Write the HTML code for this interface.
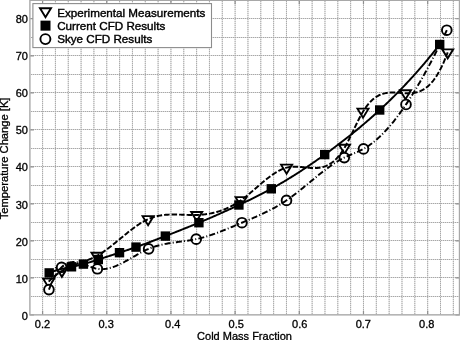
<!DOCTYPE html>
<html><head><meta charset="utf-8"><style>
html,body{margin:0;padding:0;background:#fff;width:460px;height:340px;overflow:hidden}
svg{display:block}
</style></head><body>
<svg width="460" height="340" viewBox="0 0 460 340">
<rect width="460" height="340" fill="#fff"/>
<path d="M42.58,1 V314.85 M55.42,1 V314.85 M68.25,1 V314.85 M81.09,1 V314.85 M93.92,1 V314.85 M106.76,1 V314.85 M119.60,1 V314.85 M132.43,1 V314.85 M145.27,1 V314.85 M158.10,1 V314.85 M170.94,1 V314.85 M183.78,1 V314.85 M196.61,1 V314.85 M209.45,1 V314.85 M222.28,1 V314.85 M235.12,1 V314.85 M247.96,1 V314.85 M260.79,1 V314.85 M273.63,1 V314.85 M286.46,1 V314.85 M299.30,1 V314.85 M312.14,1 V314.85 M324.97,1 V314.85 M337.81,1 V314.85 M350.64,1 V314.85 M363.48,1 V314.85 M376.32,1 V314.85 M389.15,1 V314.85 M401.99,1 V314.85 M414.82,1 V314.85 M427.66,1 V314.85 M440.50,1 V314.85 M453.33,1 V314.85 M31,296.50 H459.5 M31,277.50 H459.5 M31,259.50 H459.5 M31,240.50 H459.5 M31,222.50 H459.5 M31,203.50 H459.5 M31,185.50 H459.5 M31,166.50 H459.5 M31,148.50 H459.5 M31,129.50 H459.5 M31,111.50 H459.5 M31,92.50 H459.5 M31,74.50 H459.5 M31,55.50 H459.5 M31,37.50 H459.5 M31,18.50 H459.5" stroke="#dadada" stroke-width="1" fill="none"/>
<path d="M42.58,1 V314.85 M55.42,1 V314.85 M68.25,1 V314.85 M81.09,1 V314.85 M93.92,1 V314.85 M106.76,1 V314.85 M119.60,1 V314.85 M132.43,1 V314.85 M145.27,1 V314.85 M158.10,1 V314.85 M170.94,1 V314.85 M183.78,1 V314.85 M196.61,1 V314.85 M209.45,1 V314.85 M222.28,1 V314.85 M235.12,1 V314.85 M247.96,1 V314.85 M260.79,1 V314.85 M273.63,1 V314.85 M286.46,1 V314.85 M299.30,1 V314.85 M312.14,1 V314.85 M324.97,1 V314.85 M337.81,1 V314.85 M350.64,1 V314.85 M363.48,1 V314.85 M376.32,1 V314.85 M389.15,1 V314.85 M401.99,1 V314.85 M414.82,1 V314.85 M427.66,1 V314.85 M440.50,1 V314.85 M453.33,1 V314.85 M31,296.50 H459.5 M31,277.50 H459.5 M31,259.50 H459.5 M31,240.50 H459.5 M31,222.50 H459.5 M31,203.50 H459.5 M31,185.50 H459.5 M31,166.50 H459.5 M31,148.50 H459.5 M31,129.50 H459.5 M31,111.50 H459.5 M31,92.50 H459.5 M31,74.50 H459.5 M31,55.50 H459.5 M31,37.50 H459.5 M31,18.50 H459.5" stroke="#a8a8a8" stroke-width="1" fill="none" stroke-dasharray="1 1"/>
<path d="M42.58,314.85 v-4 M42.58,0.3 v4 M106.76,314.85 v-4 M106.76,0.3 v4 M170.94,314.85 v-4 M170.94,0.3 v4 M235.12,314.85 v-4 M235.12,0.3 v4 M299.30,314.85 v-4 M299.30,0.3 v4 M363.48,314.85 v-4 M363.48,0.3 v4 M427.66,314.85 v-4 M427.66,0.3 v4 M29.9,314.93 h4 M459.5,314.93 h-4 M29.9,277.91 h4 M459.5,277.91 h-4 M29.9,240.89 h4 M459.5,240.89 h-4 M29.9,203.87 h4 M459.5,203.87 h-4 M29.9,166.85 h4 M459.5,166.85 h-4 M29.9,129.83 h4 M459.5,129.83 h-4 M29.9,92.81 h4 M459.5,92.81 h-4 M29.9,55.79 h4 M459.5,55.79 h-4 M29.9,18.77 h4 M459.5,18.77 h-4" stroke="#909090" stroke-width="1.2" fill="none"/>
<rect x="29.9" y="0.3" width="429.6" height="314.55" fill="none" stroke="#a8a8a8" stroke-width="1.4"/>
<path d="M43.20,278.65 H54.20 L48.70,287.65 Z" fill="#fff" stroke="#000" stroke-width="1.9" stroke-linejoin="miter"/>
<path d="M56.40,267.85 H67.40 L61.90,276.85 Z" fill="#fff" stroke="#000" stroke-width="1.9" stroke-linejoin="miter"/>
<path d="M91.50,252.75 H102.50 L97.00,261.75 Z" fill="#fff" stroke="#000" stroke-width="1.9" stroke-linejoin="miter"/>
<path d="M142.60,216.15 H153.60 L148.10,225.15 Z" fill="#fff" stroke="#000" stroke-width="1.9" stroke-linejoin="miter"/>
<path d="M191.20,211.95 H202.20 L196.70,220.95 Z" fill="#fff" stroke="#000" stroke-width="1.9" stroke-linejoin="miter"/>
<path d="M235.60,197.15 H246.60 L241.10,206.15 Z" fill="#fff" stroke="#000" stroke-width="1.9" stroke-linejoin="miter"/>
<path d="M281.10,164.65 H292.10 L286.60,173.65 Z" fill="#fff" stroke="#000" stroke-width="1.9" stroke-linejoin="miter"/>
<path d="M339.00,144.75 H350.00 L344.50,153.75 Z" fill="#fff" stroke="#000" stroke-width="1.9" stroke-linejoin="miter"/>
<path d="M357.50,108.65 H368.50 L363.00,117.65 Z" fill="#fff" stroke="#000" stroke-width="1.9" stroke-linejoin="miter"/>
<path d="M400.00,90.25 H411.00 L405.50,99.25 Z" fill="#fff" stroke="#000" stroke-width="1.9" stroke-linejoin="miter"/>
<path d="M442.20,49.35 H453.20 L447.70,58.35 Z" fill="#fff" stroke="#000" stroke-width="1.9" stroke-linejoin="miter"/>
<rect x="44.50" y="268.20" width="9.4" height="9.4" fill="#000"/>
<rect x="66.80" y="262.10" width="9.4" height="9.4" fill="#000"/>
<rect x="78.70" y="259.40" width="9.4" height="9.4" fill="#000"/>
<rect x="93.60" y="254.80" width="9.4" height="9.4" fill="#000"/>
<rect x="114.80" y="248.00" width="9.4" height="9.4" fill="#000"/>
<rect x="131.30" y="242.40" width="9.4" height="9.4" fill="#000"/>
<rect x="160.65" y="231.40" width="9.4" height="9.4" fill="#000"/>
<rect x="194.20" y="218.00" width="9.4" height="9.4" fill="#000"/>
<rect x="234.20" y="200.30" width="9.4" height="9.4" fill="#000"/>
<rect x="266.60" y="184.10" width="9.4" height="9.4" fill="#000"/>
<rect x="320.00" y="149.90" width="9.4" height="9.4" fill="#000"/>
<rect x="375.00" y="105.30" width="9.4" height="9.4" fill="#000"/>
<rect x="435.00" y="39.80" width="9.4" height="9.4" fill="#000"/>
<circle cx="48.95" cy="289.60" r="4.85" fill="#fff" stroke="#000" stroke-width="1.9"/>
<circle cx="61.60" cy="267.30" r="4.85" fill="#fff" stroke="#000" stroke-width="1.9"/>
<circle cx="97.40" cy="268.80" r="4.85" fill="#fff" stroke="#000" stroke-width="1.9"/>
<circle cx="148.65" cy="248.85" r="4.85" fill="#fff" stroke="#000" stroke-width="1.9"/>
<circle cx="196.20" cy="239.15" r="4.85" fill="#fff" stroke="#000" stroke-width="1.9"/>
<circle cx="241.95" cy="222.70" r="4.85" fill="#fff" stroke="#000" stroke-width="1.9"/>
<circle cx="286.50" cy="200.40" r="4.85" fill="#fff" stroke="#000" stroke-width="1.9"/>
<circle cx="344.30" cy="157.60" r="4.85" fill="#fff" stroke="#000" stroke-width="1.9"/>
<circle cx="363.50" cy="148.90" r="4.85" fill="#fff" stroke="#000" stroke-width="1.9"/>
<circle cx="406.00" cy="104.50" r="4.85" fill="#fff" stroke="#000" stroke-width="1.9"/>
<circle cx="446.80" cy="30.20" r="4.85" fill="#fff" stroke="#000" stroke-width="1.9"/>
<path d="M49.20,272.90 L50.18,272.51 L51.16,272.14 L52.14,271.78 L53.11,271.44 L54.09,271.11 L55.07,270.80 L56.05,270.50 L57.03,270.21 L58.01,269.93 L58.99,269.66 L59.97,269.40 L60.94,269.15 L61.92,268.91 L62.90,268.67 L63.88,268.44 L64.86,268.22 L65.84,268.00 L66.82,267.79 L67.80,267.58 L68.77,267.37 L69.75,267.16 L70.73,266.96 L71.71,266.76 L72.69,266.55 L73.67,266.35 L74.65,266.14 L75.62,265.93 L76.60,265.72 L77.58,265.51 L78.56,265.28 L79.54,265.06 L80.52,264.83 L81.50,264.59 L82.48,264.34 L83.45,264.09 L84.43,263.82 L85.41,263.55 L86.39,263.27 L87.37,262.98 L88.35,262.69 L89.33,262.39 L90.31,262.08 L91.28,261.78 L92.26,261.46 L93.24,261.15 L94.22,260.83 L95.20,260.51 L96.18,260.19 L97.16,259.87 L98.13,259.55 L99.11,259.24 L100.09,258.92 L101.07,258.60 L102.05,258.29 L103.03,257.97 L104.01,257.66 L104.99,257.35 L105.96,257.04 L106.94,256.72 L107.92,256.41 L108.90,256.10 L109.88,255.79 L110.86,255.48 L111.84,255.17 L112.82,254.85 L113.79,254.54 L114.77,254.23 L115.75,253.91 L116.73,253.60 L117.71,253.28 L118.69,252.96 L119.67,252.65 L120.64,252.33 L121.62,252.00 L122.60,251.68 L123.58,251.36 L124.56,251.03 L125.54,250.70 L126.52,250.37 L127.50,250.04 L128.47,249.71 L129.45,249.38 L130.43,249.04 L131.41,248.70 L132.39,248.37 L133.37,248.03 L134.35,247.68 L135.33,247.34 L136.30,246.99 L137.28,246.64 L138.26,246.29 L139.24,245.94 L140.22,245.59 L141.20,245.23 L142.18,244.88 L143.15,244.52 L144.13,244.16 L145.11,243.80 L146.09,243.44 L147.07,243.07 L148.05,242.71 L149.03,242.34 L150.01,241.98 L150.98,241.61 L151.96,241.24 L152.94,240.87 L153.92,240.50 L154.90,240.12 L155.88,239.75 L156.86,239.38 L157.84,239.00 L158.81,238.62 L159.79,238.25 L160.77,237.87 L161.75,237.49 L162.73,237.12 L163.71,236.74 L164.69,236.36 L165.66,235.98 L166.64,235.60 L167.62,235.22 L168.60,234.84 L169.58,234.46 L170.56,234.07 L171.54,233.69 L172.52,233.31 L173.49,232.93 L174.47,232.54 L175.45,232.16 L176.43,231.77 L177.41,231.39 L178.39,231.00 L179.37,230.62 L180.35,230.23 L181.32,229.84 L182.30,229.45 L183.28,229.06 L184.26,228.67 L185.24,228.28 L186.22,227.89 L187.20,227.49 L188.17,227.10 L189.15,226.70 L190.13,226.30 L191.11,225.91 L192.09,225.51 L193.07,225.11 L194.05,224.71 L195.03,224.30 L196.00,223.90 L196.98,223.50 L197.96,223.09 L198.94,222.68 L199.92,222.27 L200.90,221.86 L201.88,221.45 L202.86,221.04 L203.83,220.63 L204.81,220.21 L205.79,219.80 L206.77,219.38 L207.75,218.96 L208.73,218.54 L209.71,218.12 L210.68,217.70 L211.66,217.27 L212.64,216.85 L213.62,216.42 L214.60,215.99 L215.58,215.56 L216.56,215.13 L217.54,214.70 L218.51,214.27 L219.49,213.84 L220.47,213.40 L221.45,212.97 L222.43,212.53 L223.41,212.09 L224.39,211.65 L225.37,211.21 L226.34,210.77 L227.32,210.33 L228.30,209.88 L229.28,209.44 L230.26,208.99 L231.24,208.54 L232.22,208.09 L233.19,207.64 L234.17,207.19 L235.15,206.74 L236.13,206.29 L237.11,205.83 L238.09,205.38 L239.07,204.92 L240.05,204.46 L241.02,204.01 L242.00,203.55 L242.98,203.08 L243.96,202.62 L244.94,202.16 L245.92,201.69 L246.90,201.22 L247.88,200.76 L248.85,200.28 L249.83,199.81 L250.81,199.34 L251.79,198.86 L252.77,198.38 L253.75,197.90 L254.73,197.42 L255.71,196.93 L256.68,196.44 L257.66,195.95 L258.64,195.46 L259.62,194.96 L260.60,194.46 L261.58,193.96 L262.56,193.45 L263.53,192.95 L264.51,192.44 L265.49,191.92 L266.47,191.40 L267.45,190.88 L268.43,190.36 L269.41,189.83 L270.39,189.30 L271.36,188.76 L272.34,188.23 L273.32,187.68 L274.30,187.14 L275.28,186.59 L276.26,186.03 L277.24,185.48 L278.22,184.92 L279.19,184.35 L280.17,183.78 L281.15,183.21 L282.13,182.64 L283.11,182.06 L284.09,181.48 L285.07,180.89 L286.04,180.30 L287.02,179.71 L288.00,179.12 L288.98,178.52 L289.96,177.92 L290.94,177.31 L291.92,176.70 L292.90,176.09 L293.87,175.48 L294.85,174.86 L295.83,174.24 L296.81,173.61 L297.79,172.98 L298.77,172.35 L299.75,171.72 L300.73,171.08 L301.70,170.44 L302.68,169.80 L303.66,169.15 L304.64,168.51 L305.62,167.85 L306.60,167.20 L307.58,166.54 L308.55,165.88 L309.53,165.22 L310.51,164.55 L311.49,163.88 L312.47,163.21 L313.45,162.54 L314.43,161.86 L315.41,161.18 L316.38,160.50 L317.36,159.82 L318.34,159.13 L319.32,158.44 L320.30,157.75 L321.28,157.05 L322.26,156.35 L323.24,155.65 L324.21,154.95 L325.19,154.24 L326.17,153.54 L327.15,152.83 L328.13,152.12 L329.11,151.40 L330.09,150.68 L331.06,149.96 L332.04,149.24 L333.02,148.51 L334.00,147.79 L334.98,147.05 L335.96,146.32 L336.94,145.58 L337.92,144.84 L338.89,144.10 L339.87,143.35 L340.85,142.61 L341.83,141.85 L342.81,141.10 L343.79,140.34 L344.77,139.58 L345.75,138.81 L346.72,138.05 L347.70,137.28 L348.68,136.50 L349.66,135.72 L350.64,134.94 L351.62,134.16 L352.60,133.37 L353.57,132.58 L354.55,131.78 L355.53,130.98 L356.51,130.18 L357.49,129.38 L358.47,128.57 L359.45,127.75 L360.43,126.93 L361.40,126.11 L362.38,125.29 L363.36,124.46 L364.34,123.62 L365.32,122.79 L366.30,121.95 L367.28,121.10 L368.26,120.25 L369.23,119.40 L370.21,118.54 L371.19,117.68 L372.17,116.81 L373.15,115.94 L374.13,115.07 L375.11,114.19 L376.08,113.30 L377.06,112.42 L378.04,111.52 L379.02,110.63 L380.00,109.72 L380.98,108.82 L381.96,107.91 L382.94,106.99 L383.91,106.07 L384.89,105.14 L385.87,104.21 L386.85,103.28 L387.83,102.34 L388.81,101.39 L389.79,100.44 L390.77,99.49 L391.74,98.53 L392.72,97.56 L393.70,96.59 L394.68,95.62 L395.66,94.64 L396.64,93.65 L397.62,92.66 L398.59,91.67 L399.57,90.66 L400.55,89.66 L401.53,88.64 L402.51,87.63 L403.49,86.60 L404.47,85.57 L405.45,84.54 L406.42,83.50 L407.40,82.45 L408.38,81.40 L409.36,80.34 L410.34,79.28 L411.32,78.21 L412.30,77.14 L413.28,76.06 L414.25,74.97 L415.23,73.88 L416.21,72.78 L417.19,71.67 L418.17,70.56 L419.15,69.45 L420.13,68.32 L421.10,67.19 L422.08,66.06 L423.06,64.91 L424.04,63.77 L425.02,62.61 L426.00,61.45 L426.98,60.28 L427.96,59.11 L428.93,57.93 L429.91,56.74 L430.89,55.55 L431.87,54.35 L432.85,53.14 L433.83,51.93 L434.81,50.71 L435.79,49.48 L436.76,48.24 L437.74,47.00 L438.72,45.75 L439.70,44.50" fill="none" stroke="#000" stroke-width="1.95"/>
<path d="M48.70,281.65 L49.70,280.60 L50.70,279.59 L51.70,278.62 L52.70,277.70 L53.70,276.81 L54.70,275.96 L55.70,275.15 L56.70,274.37 L57.70,273.63 L58.70,272.92 L59.70,272.24 L60.70,271.59 L61.70,270.97 L62.70,270.38 L63.70,269.81 L64.70,269.26 L65.70,268.74 L66.70,268.24 L67.70,267.76 L68.70,267.29 L69.70,266.84 L70.70,266.41 L71.70,265.99 L72.70,265.59 L73.70,265.19 L74.70,264.81 L75.70,264.43 L76.70,264.06 L77.70,263.70 L78.70,263.34 L79.70,262.98 L80.70,262.63 L81.70,262.27 L82.70,261.91 L83.70,261.55 L84.70,261.18 L85.70,260.81 L86.70,260.43 L87.70,260.04 L88.70,259.64 L89.70,259.23 L90.70,258.81 L91.70,258.37 L92.70,257.92 L93.70,257.45 L94.70,256.96 L95.70,256.45 L96.70,255.91 L97.70,255.36 L98.70,254.78 L99.70,254.18 L100.70,253.56 L101.70,252.92 L102.70,252.26 L103.70,251.59 L104.70,250.89 L105.70,250.18 L106.70,249.46 L107.70,248.72 L108.70,247.97 L109.70,247.21 L110.70,246.44 L111.70,245.65 L112.70,244.86 L113.70,244.06 L114.70,243.25 L115.70,242.44 L116.70,241.62 L117.70,240.80 L118.70,239.98 L119.70,239.15 L120.70,238.33 L121.70,237.50 L122.70,236.67 L123.70,235.85 L124.70,235.03 L125.70,234.22 L126.70,233.41 L127.70,232.60 L128.70,231.80 L129.70,231.01 L130.70,230.23 L131.70,229.46 L132.70,228.70 L133.70,227.96 L134.70,227.22 L135.70,226.50 L136.70,225.80 L137.70,225.11 L138.70,224.44 L139.70,223.79 L140.70,223.15 L141.70,222.54 L142.70,221.95 L143.70,221.37 L144.70,220.83 L145.70,220.30 L146.70,219.80 L147.70,219.33 L148.70,218.89 L149.70,218.47 L150.70,218.08 L151.70,217.71 L152.70,217.37 L153.70,217.05 L154.70,216.75 L155.70,216.48 L156.70,216.23 L157.70,216.00 L158.70,215.79 L159.70,215.60 L160.70,215.42 L161.70,215.27 L162.70,215.13 L163.70,215.01 L164.70,214.90 L165.70,214.81 L166.70,214.73 L167.70,214.67 L168.70,214.61 L169.70,214.57 L170.70,214.54 L171.70,214.52 L172.70,214.51 L173.70,214.51 L174.70,214.51 L175.70,214.52 L176.70,214.54 L177.70,214.56 L178.70,214.59 L179.70,214.62 L180.70,214.65 L181.70,214.69 L182.70,214.72 L183.70,214.76 L184.70,214.80 L185.70,214.83 L186.70,214.87 L187.70,214.90 L188.70,214.93 L189.70,214.96 L190.70,214.98 L191.70,214.99 L192.70,215.00 L193.70,215.00 L194.70,214.99 L195.70,214.98 L196.70,214.95 L197.70,214.91 L198.70,214.87 L199.70,214.81 L200.70,214.74 L201.70,214.66 L202.70,214.57 L203.70,214.47 L204.70,214.36 L205.70,214.23 L206.70,214.09 L207.70,213.94 L208.70,213.78 L209.70,213.60 L210.70,213.41 L211.70,213.21 L212.70,212.99 L213.70,212.76 L214.70,212.52 L215.70,212.26 L216.70,211.98 L217.70,211.69 L218.70,211.39 L219.70,211.07 L220.70,210.74 L221.70,210.39 L222.70,210.02 L223.70,209.64 L224.70,209.24 L225.70,208.82 L226.70,208.39 L227.70,207.94 L228.70,207.47 L229.70,206.99 L230.70,206.49 L231.70,205.96 L232.70,205.43 L233.70,204.87 L234.70,204.29 L235.70,203.70 L236.70,203.08 L237.70,202.45 L238.70,201.80 L239.70,201.13 L240.70,200.43 L241.70,199.72 L242.70,198.99 L243.70,198.24 L244.70,197.47 L245.70,196.69 L246.70,195.89 L247.70,195.08 L248.70,194.26 L249.70,193.42 L250.70,192.58 L251.70,191.73 L252.70,190.88 L253.70,190.02 L254.70,189.15 L255.70,188.29 L256.70,187.42 L257.70,186.56 L258.70,185.69 L259.70,184.83 L260.70,183.97 L261.70,183.12 L262.70,182.28 L263.70,181.44 L264.70,180.62 L265.70,179.80 L266.70,179.00 L267.70,178.21 L268.70,177.44 L269.70,176.68 L270.70,175.94 L271.70,175.22 L272.70,174.52 L273.70,173.85 L274.70,173.19 L275.70,172.56 L276.70,171.96 L277.70,171.38 L278.70,170.83 L279.70,170.31 L280.70,169.82 L281.70,169.37 L282.70,168.95 L283.70,168.56 L284.70,168.21 L285.70,167.90 L286.70,167.62 L287.70,167.39 L288.70,167.20 L289.70,167.04 L290.70,166.91 L291.70,166.81 L292.70,166.75 L293.70,166.71 L294.70,166.69 L295.70,166.70 L296.70,166.73 L297.70,166.77 L298.70,166.83 L299.70,166.90 L300.70,166.99 L301.70,167.08 L302.70,167.18 L303.70,167.28 L304.70,167.38 L305.70,167.49 L306.70,167.59 L307.70,167.69 L308.70,167.78 L309.70,167.86 L310.70,167.93 L311.70,167.99 L312.70,168.03 L313.70,168.05 L314.70,168.05 L315.70,168.03 L316.70,167.98 L317.70,167.91 L318.70,167.80 L319.70,167.67 L320.70,167.50 L321.70,167.29 L322.70,167.05 L323.70,166.76 L324.70,166.44 L325.70,166.06 L326.70,165.64 L327.70,165.17 L328.70,164.65 L329.70,164.08 L330.70,163.44 L331.70,162.75 L332.70,162.00 L333.70,161.19 L334.70,160.31 L335.70,159.36 L336.70,158.34 L337.70,157.25 L338.70,156.09 L339.70,154.84 L340.70,153.52 L341.70,152.12 L342.70,150.64 L343.70,149.07 L344.70,147.41 L345.70,145.67 L346.70,143.84 L347.70,141.95 L348.70,140.01 L349.70,138.01 L350.70,135.97 L351.70,133.91 L352.70,131.83 L353.70,129.74 L354.70,127.65 L355.70,125.57 L356.70,123.51 L357.70,121.48 L358.70,119.50 L359.70,117.56 L360.70,115.68 L361.70,113.88 L362.70,112.15 L363.70,110.51 L364.70,108.97 L365.70,107.51 L366.70,106.14 L367.70,104.85 L368.70,103.64 L369.70,102.51 L370.70,101.46 L371.70,100.48 L372.70,99.58 L373.70,98.74 L374.70,97.96 L375.70,97.26 L376.70,96.61 L377.70,96.02 L378.70,95.48 L379.70,95.01 L380.70,94.58 L381.70,94.20 L382.70,93.87 L383.70,93.58 L384.70,93.33 L385.70,93.12 L386.70,92.95 L387.70,92.81 L388.70,92.70 L389.70,92.62 L390.70,92.57 L391.70,92.54 L392.70,92.53 L393.70,92.55 L394.70,92.57 L395.70,92.62 L396.70,92.67 L397.70,92.73 L398.70,92.80 L399.70,92.87 L400.70,92.95 L401.70,93.02 L402.70,93.09 L403.70,93.16 L404.70,93.21 L405.70,93.26 L406.70,93.29 L407.70,93.31 L408.70,93.30 L409.70,93.28 L410.70,93.23 L411.70,93.16 L412.70,93.06 L413.70,92.93 L414.70,92.76 L415.70,92.56 L416.70,92.32 L417.70,92.04 L418.70,91.72 L419.70,91.35 L420.70,90.93 L421.70,90.46 L422.70,89.94 L423.70,89.36 L424.70,88.73 L425.70,88.03 L426.70,87.27 L427.70,86.45 L428.70,85.56 L429.70,84.59 L430.70,83.56 L431.70,82.45 L432.70,81.26 L433.70,79.99 L434.70,78.63 L435.70,77.19 L436.70,75.67 L437.70,74.05 L438.70,72.34 L439.70,70.53 L440.70,68.63 L441.70,66.62 L442.70,64.52 L443.70,62.30 L444.70,59.98 L445.70,57.55 L446.70,55.01 L447.70,52.35" fill="none" stroke="#000" stroke-width="1.95" stroke-dasharray="5.5 2"/>
<path d="M48.95,289.60 L49.95,287.03 L50.94,284.61 L51.94,282.34 L52.94,280.22 L53.94,278.24 L54.93,276.39 L55.93,274.68 L56.93,273.10 L57.92,271.65 L58.92,270.31 L59.92,269.10 L60.92,267.99 L61.91,267.00 L62.91,266.11 L63.91,265.32 L64.90,264.63 L65.90,264.03 L66.90,263.51 L67.90,263.09 L68.89,262.74 L69.89,262.47 L70.89,262.26 L71.88,262.13 L72.88,262.06 L73.88,262.05 L74.88,262.10 L75.87,262.19 L76.87,262.33 L77.87,262.52 L78.86,262.74 L79.86,263.00 L80.86,263.29 L81.85,263.61 L82.85,263.95 L83.85,264.30 L84.85,264.67 L85.84,265.05 L86.84,265.44 L87.84,265.82 L88.83,266.21 L89.83,266.58 L90.83,266.95 L91.83,267.30 L92.82,267.63 L93.82,267.94 L94.82,268.23 L95.81,268.48 L96.81,268.69 L97.81,268.87 L98.81,269.00 L99.80,269.09 L100.80,269.15 L101.80,269.16 L102.79,269.14 L103.79,269.09 L104.79,269.00 L105.79,268.87 L106.78,268.71 L107.78,268.53 L108.78,268.31 L109.77,268.06 L110.77,267.79 L111.77,267.49 L112.77,267.17 L113.76,266.82 L114.76,266.45 L115.76,266.05 L116.75,265.64 L117.75,265.21 L118.75,264.76 L119.75,264.29 L120.74,263.81 L121.74,263.32 L122.74,262.81 L123.73,262.28 L124.73,261.75 L125.73,261.21 L126.73,260.66 L127.72,260.10 L128.72,259.54 L129.72,258.97 L130.71,258.40 L131.71,257.83 L132.71,257.25 L133.71,256.68 L134.70,256.10 L135.70,255.53 L136.70,254.96 L137.69,254.40 L138.69,253.84 L139.69,253.29 L140.68,252.75 L141.68,252.21 L142.68,251.69 L143.68,251.18 L144.67,250.68 L145.67,250.20 L146.67,249.73 L147.66,249.28 L148.66,248.84 L149.66,248.43 L150.66,248.03 L151.65,247.65 L152.65,247.29 L153.65,246.95 L154.64,246.62 L155.64,246.30 L156.64,246.00 L157.64,245.72 L158.63,245.45 L159.63,245.19 L160.63,244.94 L161.62,244.70 L162.62,244.48 L163.62,244.27 L164.62,244.06 L165.61,243.87 L166.61,243.68 L167.61,243.50 L168.60,243.33 L169.60,243.17 L170.60,243.01 L171.60,242.86 L172.59,242.71 L173.59,242.57 L174.59,242.43 L175.58,242.29 L176.58,242.16 L177.58,242.03 L178.58,241.90 L179.57,241.77 L180.57,241.64 L181.57,241.51 L182.56,241.38 L183.56,241.24 L184.56,241.11 L185.56,240.97 L186.55,240.83 L187.55,240.68 L188.55,240.53 L189.54,240.37 L190.54,240.21 L191.54,240.04 L192.53,239.87 L193.53,239.68 L194.53,239.49 L195.53,239.29 L196.52,239.08 L197.52,238.86 L198.52,238.63 L199.51,238.39 L200.51,238.14 L201.51,237.88 L202.51,237.62 L203.50,237.34 L204.50,237.06 L205.50,236.76 L206.49,236.47 L207.49,236.16 L208.49,235.84 L209.49,235.52 L210.48,235.19 L211.48,234.86 L212.48,234.52 L213.47,234.17 L214.47,233.82 L215.47,233.46 L216.47,233.09 L217.46,232.72 L218.46,232.35 L219.46,231.97 L220.45,231.59 L221.45,231.20 L222.45,230.81 L223.45,230.41 L224.44,230.01 L225.44,229.61 L226.44,229.21 L227.43,228.80 L228.43,228.39 L229.43,227.98 L230.43,227.56 L231.42,227.14 L232.42,226.73 L233.42,226.31 L234.41,225.89 L235.41,225.47 L236.41,225.04 L237.41,224.62 L238.40,224.20 L239.40,223.78 L240.40,223.36 L241.39,222.93 L242.39,222.51 L243.39,222.09 L244.39,221.68 L245.38,221.26 L246.38,220.84 L247.38,220.42 L248.37,220.00 L249.37,219.58 L250.37,219.16 L251.36,218.73 L252.36,218.31 L253.36,217.88 L254.36,217.45 L255.35,217.02 L256.35,216.58 L257.35,216.14 L258.34,215.70 L259.34,215.25 L260.34,214.80 L261.34,214.34 L262.33,213.88 L263.33,213.42 L264.33,212.95 L265.32,212.47 L266.32,211.99 L267.32,211.50 L268.32,211.00 L269.31,210.49 L270.31,209.98 L271.31,209.46 L272.30,208.94 L273.30,208.40 L274.30,207.86 L275.30,207.31 L276.29,206.75 L277.29,206.17 L278.29,205.59 L279.28,205.00 L280.28,204.40 L281.28,203.79 L282.28,203.17 L283.27,202.53 L284.27,201.89 L285.27,201.23 L286.26,200.56 L287.26,199.88 L288.26,199.18 L289.26,198.48 L290.25,197.76 L291.25,197.03 L292.25,196.30 L293.24,195.55 L294.24,194.79 L295.24,194.03 L296.24,193.26 L297.23,192.48 L298.23,191.69 L299.23,190.90 L300.22,190.10 L301.22,189.30 L302.22,188.49 L303.22,187.68 L304.21,186.86 L305.21,186.05 L306.21,185.23 L307.20,184.41 L308.20,183.58 L309.20,182.76 L310.19,181.93 L311.19,181.11 L312.19,180.29 L313.19,179.47 L314.18,178.65 L315.18,177.83 L316.18,177.02 L317.17,176.21 L318.17,175.40 L319.17,174.60 L320.17,173.80 L321.16,173.01 L322.16,172.23 L323.16,171.45 L324.15,170.68 L325.15,169.92 L326.15,169.17 L327.15,168.43 L328.14,167.69 L329.14,166.97 L330.14,166.26 L331.13,165.55 L332.13,164.86 L333.13,164.19 L334.13,163.52 L335.12,162.87 L336.12,162.23 L337.12,161.61 L338.11,161.00 L339.11,160.41 L340.11,159.83 L341.11,159.27 L342.10,158.73 L343.10,158.21 L344.10,157.70 L345.09,157.21 L346.09,156.74 L347.09,156.29 L348.09,155.84 L349.08,155.41 L350.08,154.99 L351.08,154.57 L352.07,154.15 L353.07,153.74 L354.07,153.32 L355.07,152.90 L356.06,152.48 L357.06,152.05 L358.06,151.60 L359.05,151.15 L360.05,150.68 L361.05,150.19 L362.04,149.68 L363.04,149.15 L364.04,148.60 L365.04,148.02 L366.03,147.41 L367.03,146.79 L368.03,146.13 L369.02,145.46 L370.02,144.75 L371.02,144.03 L372.02,143.28 L373.01,142.50 L374.01,141.71 L375.01,140.88 L376.00,140.04 L377.00,139.17 L378.00,138.28 L379.00,137.37 L379.99,136.43 L380.99,135.47 L381.99,134.49 L382.98,133.49 L383.98,132.46 L384.98,131.41 L385.98,130.34 L386.97,129.25 L387.97,128.14 L388.97,127.01 L389.96,125.85 L390.96,124.67 L391.96,123.48 L392.96,122.26 L393.95,121.02 L394.95,119.76 L395.95,118.48 L396.94,117.19 L397.94,115.87 L398.94,114.53 L399.94,113.17 L400.93,111.79 L401.93,110.40 L402.93,108.98 L403.92,107.55 L404.92,106.09 L405.92,104.62 L406.92,103.13 L407.91,101.62 L408.91,100.10 L409.91,98.55 L410.90,96.99 L411.90,95.41 L412.90,93.81 L413.90,92.19 L414.89,90.56 L415.89,88.91 L416.89,87.25 L417.88,85.56 L418.88,83.86 L419.88,82.15 L420.87,80.42 L421.87,78.67 L422.87,76.90 L423.87,75.12 L424.86,73.33 L425.86,71.52 L426.86,69.69 L427.85,67.85 L428.85,65.99 L429.85,64.12 L430.85,62.24 L431.84,60.34 L432.84,58.42 L433.84,56.49 L434.83,54.55 L435.83,52.59 L436.83,50.62 L437.83,48.64 L438.82,46.64 L439.82,44.63 L440.82,42.61 L441.81,40.57 L442.81,38.52 L443.81,36.46 L444.81,34.39 L445.80,32.30 L446.80,30.20" fill="none" stroke="#000" stroke-width="1.95" stroke-dasharray="6 2.2 1 2.2"/>
<rect x="32.9" y="3.6" width="178.6" height="44" fill="#fff" stroke="#8c8c8c" stroke-width="1.1"/>
<path d="M40.00,8.25 H51.00 L45.50,17.25 Z" fill="#fff" stroke="#000" stroke-width="1.9" stroke-linejoin="miter"/>
<rect x="40.50" y="20.65" width="10" height="10" fill="#000"/>
<circle cx="45.40" cy="39.10" r="5.0" fill="#fff" stroke="#000" stroke-width="1.9"/>
<text x="57.2" y="16.65" style="font-family:'Liberation Sans',Arial,sans-serif;font-size:11.65px;font-weight:normal;fill:#000;stroke:#000;stroke-width:0.4px">Experimental Measurements</text>
<text x="57.2" y="29.8" style="font-family:'Liberation Sans',Arial,sans-serif;font-size:11.65px;font-weight:normal;fill:#000;stroke:#000;stroke-width:0.4px">Current CFD Results</text>
<text x="57.2" y="42.7" style="font-family:'Liberation Sans',Arial,sans-serif;font-size:11.65px;font-weight:normal;fill:#000;stroke:#000;stroke-width:0.4px">Skye CFD Results</text>
<text transform="translate(42.50,327.75) scale(1.04,1)" text-anchor="middle" style="font-family:'Liberation Sans',Arial,sans-serif;font-size:10.6px;font-weight:normal;fill:#000;stroke:#000;stroke-width:0.3px">0.2</text>
<text transform="translate(106.10,327.75) scale(1.04,1)" text-anchor="middle" style="font-family:'Liberation Sans',Arial,sans-serif;font-size:10.6px;font-weight:normal;fill:#000;stroke:#000;stroke-width:0.3px">0.3</text>
<text transform="translate(172.65,327.75) scale(1.04,1)" text-anchor="middle" style="font-family:'Liberation Sans',Arial,sans-serif;font-size:10.6px;font-weight:normal;fill:#000;stroke:#000;stroke-width:0.3px">0.4</text>
<text transform="translate(236.20,327.75) scale(1.04,1)" text-anchor="middle" style="font-family:'Liberation Sans',Arial,sans-serif;font-size:10.6px;font-weight:normal;fill:#000;stroke:#000;stroke-width:0.3px">0.5</text>
<text transform="translate(299.70,327.75) scale(1.04,1)" text-anchor="middle" style="font-family:'Liberation Sans',Arial,sans-serif;font-size:10.6px;font-weight:normal;fill:#000;stroke:#000;stroke-width:0.3px">0.6</text>
<text transform="translate(363.30,327.75) scale(1.04,1)" text-anchor="middle" style="font-family:'Liberation Sans',Arial,sans-serif;font-size:10.6px;font-weight:normal;fill:#000;stroke:#000;stroke-width:0.3px">0.7</text>
<text transform="translate(426.70,327.75) scale(1.04,1)" text-anchor="middle" style="font-family:'Liberation Sans',Arial,sans-serif;font-size:10.6px;font-weight:normal;fill:#000;stroke:#000;stroke-width:0.3px">0.8</text>
<text transform="translate(27.9,320.00) scale(1.04,1)" text-anchor="end" style="font-family:'Liberation Sans',Arial,sans-serif;font-size:10.6px;font-weight:normal;fill:#000;stroke:#000;stroke-width:0.3px">0</text>
<text transform="translate(27.9,282.85) scale(1.04,1)" text-anchor="end" style="font-family:'Liberation Sans',Arial,sans-serif;font-size:10.6px;font-weight:normal;fill:#000;stroke:#000;stroke-width:0.3px">10</text>
<text transform="translate(27.9,245.69) scale(1.04,1)" text-anchor="end" style="font-family:'Liberation Sans',Arial,sans-serif;font-size:10.6px;font-weight:normal;fill:#000;stroke:#000;stroke-width:0.3px">20</text>
<text transform="translate(27.9,208.54) scale(1.04,1)" text-anchor="end" style="font-family:'Liberation Sans',Arial,sans-serif;font-size:10.6px;font-weight:normal;fill:#000;stroke:#000;stroke-width:0.3px">30</text>
<text transform="translate(27.9,171.38) scale(1.04,1)" text-anchor="end" style="font-family:'Liberation Sans',Arial,sans-serif;font-size:10.6px;font-weight:normal;fill:#000;stroke:#000;stroke-width:0.3px">40</text>
<text transform="translate(27.9,134.23) scale(1.04,1)" text-anchor="end" style="font-family:'Liberation Sans',Arial,sans-serif;font-size:10.6px;font-weight:normal;fill:#000;stroke:#000;stroke-width:0.3px">50</text>
<text transform="translate(27.9,97.08) scale(1.04,1)" text-anchor="end" style="font-family:'Liberation Sans',Arial,sans-serif;font-size:10.6px;font-weight:normal;fill:#000;stroke:#000;stroke-width:0.3px">60</text>
<text transform="translate(27.9,59.92) scale(1.04,1)" text-anchor="end" style="font-family:'Liberation Sans',Arial,sans-serif;font-size:10.6px;font-weight:normal;fill:#000;stroke:#000;stroke-width:0.3px">70</text>
<text transform="translate(27.9,22.77) scale(1.04,1)" text-anchor="end" style="font-family:'Liberation Sans',Arial,sans-serif;font-size:10.6px;font-weight:normal;fill:#000;stroke:#000;stroke-width:0.3px">80</text>
<text x="244.5" y="339.6" text-anchor="middle" style="font-family:'Liberation Sans',Arial,sans-serif;font-size:11px;font-weight:normal;fill:#000;stroke:#000;stroke-width:0.3px">Cold Mass Fraction</text>
<text transform="translate(8.3,158.4) rotate(-90) scale(1.017,1)" text-anchor="middle" style="font-family:'Liberation Sans',Arial,sans-serif;font-size:11px;font-weight:normal;fill:#000;stroke:#000;stroke-width:0.3px">Temperature Change [K]</text>
</svg>
</body></html>
